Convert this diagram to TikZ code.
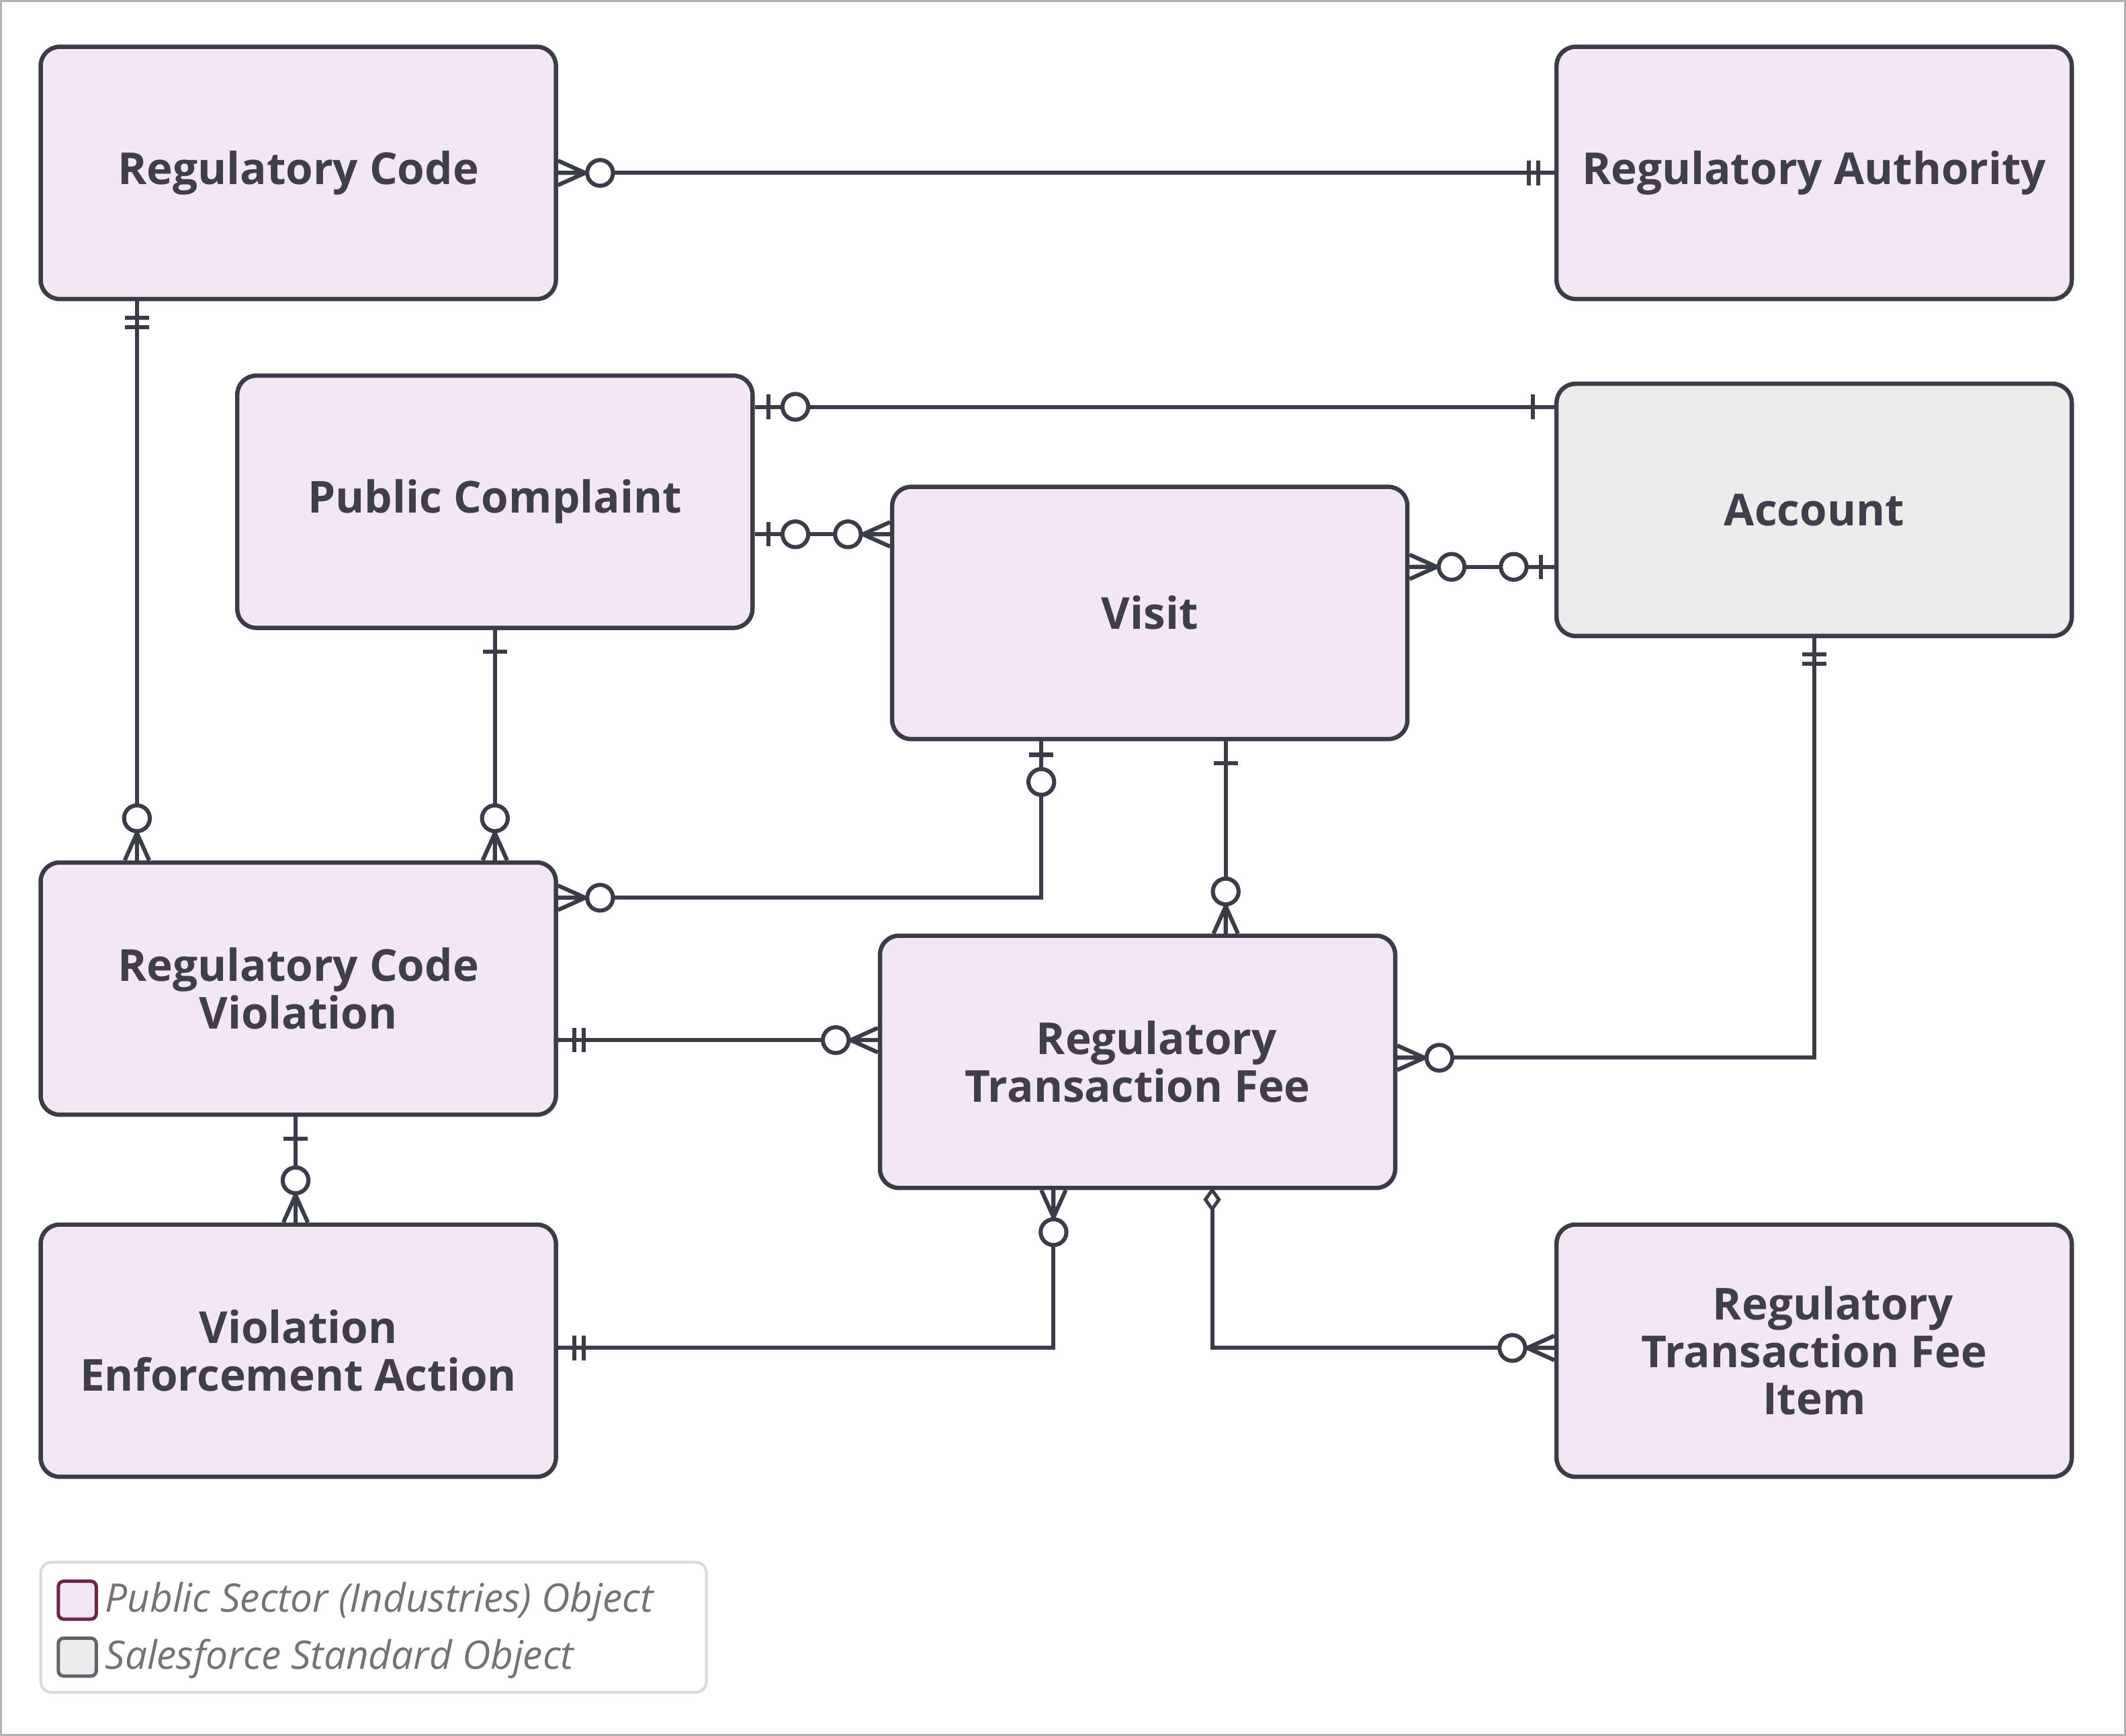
\documentclass[tikz,border=0pt]{standalone}
\usepackage{fontspec}
\setmainfont{Open Sans}
\definecolor{bd}{HTML}{3A3D48}
\definecolor{pf}{HTML}{F2E7F3}
\definecolor{gf}{HTML}{ECECEC}
\definecolor{tx}{HTML}{3E3E4C}
\begin{document}
\begin{tikzpicture}[x=1pt,y=-1pt,
  ent/.style={draw=bd,line width=3.2pt,rounded corners=14pt,fill=pf,minimum width=380pt,minimum height=186pt,inner sep=0pt,align=center,text=tx,font=\fontsize{32.5}{35}\selectfont\bfseries},
  conn/.style={draw=bd,line width=3pt},
  crowc/.pic={\draw[bd,line width=3pt] (0,9)--(20,0)--(0,-9) (0,0)--(20,0); \draw[bd,line width=3pt,fill=white] (31,0) circle (9.5);},
  dbar/.pic={\draw[bd,line width=3pt] (12,-9)--(12,9) (19,-9)--(19,9);},
  sbar/.pic={\draw[bd,line width=3pt] (16,-9)--(16,9);},
  barc/.pic={\draw[bd,line width=3pt] (10,-9)--(10,9); \draw[bd,line width=3pt,fill=white] (30,0) circle (9.5);},
  diam/.pic={\draw[bd,line width=2.5pt,fill=white] (0,0)--(7,-5)--(14,0)--(7,5)--cycle;}
]
\useasboundingbox (0,0) rectangle (1568,1280);
\draw[gray!60,line width=1.5pt] (0.75,0.75) rectangle (1567.25,1279.25);
\node[ent] (rc) at (220,127.5) {Regulatory Code};
\node[ent] (ra) at (1338,127.5) {Regulatory Authority};
\node[ent] (pc) at (365,370) {Public Complaint};
\node[ent,fill=gf] (ac) at (1338,376) {Account};
\node[ent] (vi) at (848,452) {Visit};
\node[ent] (rcv) at (220,729) {Regulatory Code\\Violation};
\node[ent] (rtf) at (839,783) {\hspace*{28pt}Regulatory\\Transaction Fee};
\node[ent] (vea) at (220,996) {Violation\\Enforcement Action};
\node[ent] (rtfi) at (1338,996) {\hspace*{28pt}Regulatory\\Transaction Fee\\Item};
% connectors
\draw[conn] (rc.east) -- (ra.west);
\draw[conn] (rc.south -| 101,0) -- (rcv.north -| 101,0);
\draw[conn] (pc.east |- 0,300) -- (ac.west |- 0,300);
\draw[conn] (pc.east |- 0,394) -- (vi.west |- 0,394);
\draw[conn] (vi.east |- 0,418) -- (ac.west |- 0,418);
\draw[conn] (pc.south) -- (rcv.north -| pc.south);
\draw[conn] (vi.south -| 768,0) -- (768,662) -- (rcv.east |- 0,662);
\draw[conn] (vi.south -| 904,0) -- (rtf.north -| 904,0);
\draw[conn] (ac.south) -- (1338,780) -- (rtf.east |- 0,780);
\draw[conn] (rcv.east |- 0,767) -- (rtf.west |- 0,767);
\draw[conn] (rcv.south -| 218,0) -- (vea.north -| 218,0);
\draw[conn] (vea.east |- 0,994) -- (777,994) -- (rtf.south -| 777,0);
\draw[conn] (rtf.south -| 894,0) -- (894,994) -- (rtfi.west |- 0,994);
% markers
\pic at (rc.east) {crowc}; \pic[rotate=180] at (ra.west) {dbar};
\pic[rotate=-90] at (rc.south -| 101,0) {dbar}; \pic[rotate=90] at (rcv.north -| 101,0) {crowc};
\pic at (pc.east |- 0,300) {barc}; \pic[rotate=180] at (ac.west |- 0,300) {sbar};
\pic at (pc.east |- 0,394) {barc}; \pic[rotate=180] at (vi.west |- 0,394) {crowc};
\pic at (vi.east |- 0,418) {crowc}; \pic[rotate=180] at (ac.west |- 0,418) {barc};
\pic[rotate=-90] at (pc.south) {sbar}; \pic[rotate=90] at (rcv.north -| pc.south) {crowc};
\pic[rotate=-90] at (vi.south -| 768,0) {barc}; \pic at (rcv.east |- 0,662) {crowc};
\pic[rotate=-90] at (vi.south -| 904,0) {sbar}; \pic[rotate=90] at (rtf.north -| 904,0) {crowc};
\pic[rotate=-90] at (ac.south) {dbar}; \pic at (rtf.east |- 0,780) {crowc};
\pic at (rcv.east |- 0,767) {dbar}; \pic[rotate=180] at (rtf.west |- 0,767) {crowc};
\pic[rotate=-90] at (rcv.south -| 218,0) {sbar}; \pic[rotate=90] at (vea.north -| 218,0) {crowc};
\pic at (vea.east |- 0,994) {dbar}; \pic[rotate=-90] at (rtf.south -| 777,0) {crowc};
\pic[rotate=-90] at (rtf.south -| 894,0) {diam}; \pic[rotate=180] at (rtfi.west |- 0,994) {crowc};
% legend
\node[draw=gray!30,line width=2pt,rounded corners=8pt,minimum width=491pt,minimum height=96pt] (lg) at (275.5,1200) {};
\node[draw=bd!60!purple,fill=pf,line width=2.5pt,rounded corners=4pt,minimum size=28pt] (l1) at (57,1180) {};
\node[draw=bd!80,fill=gf,line width=2.5pt,rounded corners=4pt,minimum size=28pt] (l2) at (57,1222) {};
\node[anchor=west,text=gray!90!black,font=\fontsize{29}{30}\selectfont\itshape] (t1) at (74,1181) {Public Sector (Industries) Object};
\node[anchor=west,text=gray!90!black,font=\fontsize{29}{30}\selectfont\itshape] (t2) at (74,1223) {Salesforce Standard Object};
\end{tikzpicture}
\end{document}
